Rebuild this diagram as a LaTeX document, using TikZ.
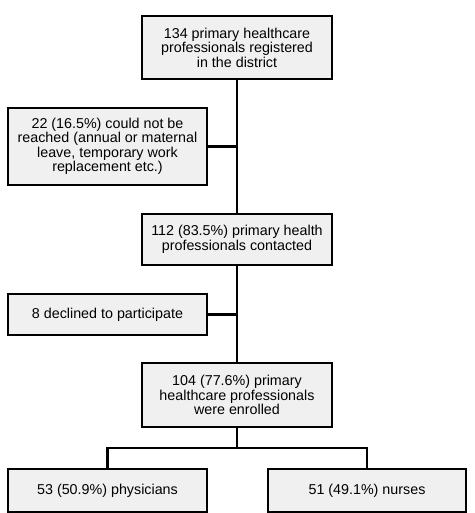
\documentclass[tikz,border=0pt]{standalone}
\usepackage{fontspec}
\setmainfont{Liberation Sans}
\tikzset{
    flowbox/.style={draw, fill=black!6, line width=1.4pt, align=center, inner sep=2pt,
        font=\fontsize{14.3}{14.4}\selectfont},
    midbox/.style={flowbox, minimum width=190pt},
    sidebox/.style={flowbox, minimum width=199pt},
    link/.style={line width=2.3pt}
}
\begin{document}
\begin{tikzpicture}[x=1pt, y=-1pt]
    \useasboundingbox (0, 0) rectangle (474, 513);

    \node[midbox, minimum height=63pt] (regist) at(237, 47.5){134 primary healthcare\\professionals registered\\in the district};
    \node[sidebox, minimum height=77pt] (reach) at(107.5, 146.5){22 (16.5\%) could not be\\reached (annual or maternal\\leave, temporary work\\replacement etc.)};
    \node[midbox, minimum height=51pt] (contact) at(237, 239.5){112 (83.5\%) primary health\\professionals contacted};
    \node[sidebox, minimum height=41pt] (declin) at(107.5, 314.5){8 declined to participate};
    \node[midbox, minimum height=64pt] (enrol) at(237, 395){104 (77.6\%) primary\\healthcare professionals\\were enrolled};
    \node[sidebox, minimum height=43pt] (phys) at(107.5, 490.5){53 (50.9\%) physicians};
    \node[flowbox, minimum width=198pt, minimum height=43pt] (nurse) at(367, 490.5){51 (49.1\%) nurses};
    \coordinate (split) at(237, 448);

    \draw[link] (regist) to (contact);
        \draw[link] (reach.east) to (reach.east -| regist.south);
    \draw[link] (contact) to (enrol);
        \draw[link] (declin.east) to (declin.east -| contact.south);
    \draw[link] (enrol) to (split);
    \draw[link] (phys.north) |- (split) -| (nurse.north);
\end{tikzpicture}
\end{document}
